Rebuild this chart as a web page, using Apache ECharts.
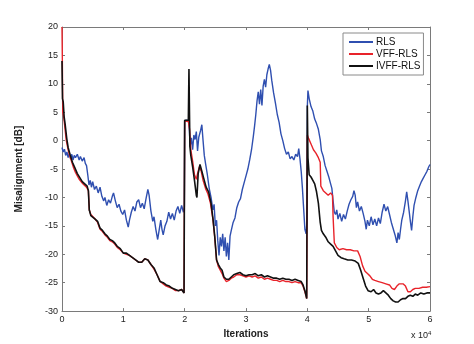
<!DOCTYPE html>
<html><head><meta charset="utf-8">
<script src="https://cdn.jsdelivr.net/npm/echarts@6/dist/echarts.min.js"></script>
<style>html,body{margin:0;padding:0;background:#fff}#c{width:474px;height:344px}</style>
</head><body><div id="c"></div>
<script>
const seriesNames = ['RLS', 'VFF-RLS', 'IVFF-RLS'];
const xTicks = [0, 1, 2, 3, 4, 5, 6];
const yTicks = [-30, -25, -20, -15, -10, -5, 0, 5, 10, 15, 20];

// x in units of 10^4 iterations, y in dB
const rls = [
[0,-1.2],[0.02,-2.0],[0.04,-1.5],[0.06,-2.6],[0.08,-2.0],[0.10,-3.0],[0.12,-2.2],[0.14,-3.2],[0.16,-2.4],[0.18,-3.4],[0.20,-2.6],[0.22,-3.0],[0.25,-2.4],[0.28,-3.4],[0.30,-2.8],[0.33,-3.6],[0.36,-3.0],[0.38,-4.0],[0.40,-4.4],[0.42,-6.0],[0.44,-7.8],[0.46,-7.0],[0.48,-8.2],[0.50,-7.2],[0.53,-8.6],[0.56,-8.0],[0.59,-9.2],[0.62,-8.2],[0.65,-9.8],[0.68,-10.6],[0.70,-10.0],[0.73,-11.4],[0.76,-10.4],[0.79,-11.0],[0.82,-9.8],[0.84,-9.2],[0.87,-10.6],[0.90,-11.8],[0.93,-11.2],[0.96,-12.4],[0.99,-13.0],[1.02,-12.2],[1.05,-14.0],[1.08,-15.2],[1.10,-14.0],[1.13,-12.6],[1.16,-11.6],[1.19,-12.4],[1.22,-10.8],[1.25,-10.4],[1.28,-11.8],[1.31,-11.0],[1.34,-12.0],[1.37,-10.2],[1.40,-8.6],[1.42,-9.6],[1.45,-12.4],[1.48,-14.2],[1.50,-13.4],[1.53,-15.6],[1.56,-17.4],[1.58,-16.0],[1.61,-14.0],[1.63,-15.6],[1.65,-16.6],[1.68,-15.0],[1.71,-14.2],[1.74,-12.6],[1.77,-13.8],[1.80,-12.8],[1.83,-14.0],[1.86,-12.4],[1.89,-11.6],[1.92,-12.8],[1.95,-11.4],[1.98,-12.6],[1.995,-11.6],
[2.0,3.5],[2.04,3.6],[2.07,3.2],[2.09,-1.0],[2.11,0.5],[2.13,-1.6],[2.15,1.0],[2.17,0.2],[2.19,1.6],[2.21,-1.8],[2.23,0.6],[2.26,1.8],[2.28,2.8],[2.30,0.0],[2.32,-2.6],[2.34,-4.0],[2.37,-6.0],[2.40,-8.4],[2.43,-10.0],[2.46,-12.2],[2.48,-11.2],[2.50,-15.0],[2.52,-14.0],[2.54,-17.6],[2.56,-20.2],[2.58,-17.0],[2.60,-18.6],[2.62,-16.4],[2.64,-19.4],[2.66,-17.0],[2.68,-20.4],[2.70,-18.0],[2.72,-21.0],[2.74,-16.8],[2.76,-15.8],[2.79,-14.4],[2.82,-13.6],[2.85,-11.8],[2.88,-10.8],[2.91,-10.2],[2.94,-8.6],[2.97,-7.4],[3.00,-6.2],[3.03,-5.0],[3.06,-3.4],[3.09,-1.6],[3.12,0.8],[3.14,2.6],[3.16,4.6],[3.18,7.0],[3.20,8.6],[3.22,6.4],[3.24,9.0],[3.26,6.2],[3.28,9.6],[3.30,10.8],[3.32,9.4],[3.34,11.6],[3.36,12.6],[3.38,13.4],[3.40,12.4],[3.42,10.6],[3.45,8.4],[3.48,6.6],[3.51,4.6],[3.54,3.2],[3.57,1.2],[3.60,0.0],[3.63,-1.4],[3.66,-2.4],[3.69,-2.0],[3.72,-3.2],[3.75,-2.8],[3.78,-3.4],[3.81,-2.4],[3.84,-2.8],[3.86,-1.4],[3.88,-3.2],[3.90,-5.4],[3.92,-8.4],[3.94,-12.0],[3.96,-15.6],[3.98,-16.4],[3.995,-14.0],
[4.0,6.0],[4.01,8.8],[4.03,7.4],[4.06,6.0],[4.09,5.2],[4.12,3.8],[4.15,3.0],[4.18,2.0],[4.21,0.2],[4.23,-1.8],[4.26,-2.8],[4.29,-4.4],[4.32,-5.4],[4.35,-6.4],[4.38,-7.6],[4.40,-8.4],[4.42,-10.6],[4.44,-12.6],[4.46,-13.0],[4.48,-12.2],[4.50,-13.8],[4.53,-12.8],[4.56,-14.2],[4.59,-13.0],[4.62,-13.8],[4.65,-12.4],[4.68,-11.2],[4.71,-10.4],[4.74,-9.8],[4.76,-8.8],[4.78,-9.6],[4.80,-11.8],[4.82,-10.8],[4.85,-12.4],[4.88,-11.6],[4.91,-12.8],[4.94,-14.2],[4.96,-15.6],[4.98,-14.0],[5.01,-15.0],[5.04,-13.4],[5.07,-14.8],[5.10,-13.8],[5.13,-15.0],[5.16,-13.6],[5.19,-14.6],[5.22,-12.6],[5.25,-11.2],[5.28,-12.4],[5.31,-11.6],[5.34,-13.0],[5.37,-14.4],[5.40,-14.2],[5.43,-16.6],[5.46,-18.0],[5.48,-16.2],[5.50,-17.4],[5.52,-15.6],[5.54,-14.0],[5.57,-12.6],[5.60,-10.6],[5.62,-9.0],[5.64,-10.6],[5.66,-12.4],[5.68,-14.2],[5.70,-15.8],[5.72,-13.4],[5.74,-11.4],[5.77,-10.0],[5.80,-8.8],[5.83,-8.0],[5.86,-7.2],[5.89,-6.6],[5.92,-6.0],[5.95,-5.4],[5.98,-4.6],[6.0,-4.2]
];

const vffRls = [
[0,20],[0.005,15],[0.012,5.0],[0.03,4.0],[0.05,2.0],[0.07,0.0],[0.10,-1.6],[0.13,-2.8],[0.16,-3.8],[0.19,-4.8],[0.22,-5.6],[0.25,-6.2],[0.28,-6.8],[0.31,-7.2],[0.34,-7.6],[0.37,-7.8],[0.40,-8.2],[0.43,-8.8],[0.445,-12.2],[0.47,-13.0],[0.50,-13.2],[0.54,-13.8],[0.58,-14.4],[0.62,-15.6],[0.66,-16.0],[0.70,-16.6],[0.74,-17.0],[0.78,-17.6],[0.82,-17.8],[0.86,-18.2],[0.90,-18.8],[0.95,-19.2],[1.0,-19.8],[1.05,-20.0],[1.10,-20.2],[1.15,-20.6],[1.20,-21.0],[1.25,-21.4],[1.30,-21.4],[1.35,-20.8],[1.40,-21.0],[1.45,-21.8],[1.50,-22.6],[1.55,-23.6],[1.60,-24.8],[1.65,-25.2],[1.70,-25.6],[1.75,-25.8],[1.80,-26.0],[1.85,-26.4],[1.90,-26.4],[1.95,-26.2],[1.99,-26.8],
[2.0,3.4],[2.06,3.4],[2.08,2.0],[2.10,-1.6],[2.13,-3.6],[2.16,-6.0],[2.19,-6.8],[2.21,-5.8],[2.24,-4.6],[2.27,-5.4],[2.30,-7.0],[2.34,-8.4],[2.38,-9.4],[2.42,-11.0],[2.46,-13.8],[2.49,-17.0],[2.52,-21.0],[2.55,-22.2],[2.58,-22.8],[2.61,-23.4],[2.64,-24.2],[2.68,-24.8],[2.72,-24.6],[2.76,-24.2],[2.80,-24.0],[2.85,-23.6],[2.90,-23.6],[2.95,-23.8],[3.0,-24.0],[3.05,-23.8],[3.10,-24.0],[3.15,-23.8],[3.20,-24.2],[3.25,-24.0],[3.30,-24.4],[3.35,-24.2],[3.40,-24.4],[3.45,-24.6],[3.50,-24.6],[3.55,-24.8],[3.60,-24.6],[3.65,-24.8],[3.70,-24.8],[3.75,-25.0],[3.80,-24.8],[3.85,-25.0],[3.90,-25.0],[3.93,-25.6],[3.96,-26.6],[3.99,-27.8],
[4.0,1.0],[4.02,0.4],[4.06,-0.6],[4.10,-1.6],[4.14,-2.2],[4.18,-3.0],[4.21,-3.8],[4.22,-8.0],[4.26,-8.8],[4.30,-9.2],[4.34,-9.6],[4.38,-9.2],[4.41,-9.6],[4.42,-13.4],[4.44,-18.0],[4.48,-18.8],[4.52,-19.2],[4.58,-19.0],[4.64,-19.2],[4.70,-19.2],[4.76,-19.4],[4.82,-19.4],[4.86,-20.4],[4.90,-22.0],[4.94,-23.0],[4.98,-23.4],[5.02,-23.8],[5.06,-24.4],[5.10,-24.6],[5.16,-24.8],[5.22,-25.0],[5.28,-25.2],[5.34,-25.4],[5.38,-26.0],[5.42,-26.2],[5.46,-25.6],[5.50,-25.2],[5.56,-25.2],[5.60,-25.6],[5.64,-26.6],[5.68,-26.6],[5.72,-26.2],[5.76,-26.0],[5.82,-26.0],[5.88,-25.8],[5.94,-25.8],[6.0,-25.7]
];

const ivffRls = [
[0,14.0],[0.008,7.4],[0.02,6.8],[0.035,4.2],[0.05,3.0],[0.077,0.4],[0.10,-1.2],[0.13,-2.4],[0.17,-3.8],[0.21,-4.8],[0.25,-5.8],[0.29,-6.5],[0.33,-7.2],[0.37,-7.6],[0.41,-8.0],[0.43,-8.8],[0.445,-12.2],[0.47,-13.2],[0.50,-13.0],[0.54,-13.8],[0.58,-14.2],[0.62,-15.4],[0.66,-15.8],[0.70,-16.4],[0.74,-16.8],[0.78,-17.4],[0.82,-17.6],[0.86,-18.0],[0.90,-18.6],[0.95,-19.0],[1.0,-19.8],[1.05,-19.8],[1.10,-20.2],[1.15,-20.6],[1.20,-21.0],[1.25,-21.4],[1.30,-21.4],[1.35,-20.8],[1.40,-21.0],[1.45,-21.8],[1.50,-22.4],[1.55,-23.6],[1.60,-24.8],[1.65,-25.0],[1.70,-25.4],[1.75,-25.6],[1.80,-26.0],[1.85,-26.2],[1.90,-26.4],[1.95,-26.2],[1.99,-26.8],
[2.0,3.6],[2.06,3.6],[2.07,12.6],[2.08,12.6],[2.085,-1.0],[2.10,-2.6],[2.13,-4.6],[2.16,-7.0],[2.19,-9.6],[2.20,-10.0],[2.22,-5.8],[2.25,-4.2],[2.28,-5.4],[2.31,-6.6],[2.35,-8.2],[2.39,-9.0],[2.43,-11.0],[2.46,-13.6],[2.49,-16.8],[2.52,-21.0],[2.55,-21.8],[2.58,-22.4],[2.61,-22.8],[2.64,-24.0],[2.68,-24.4],[2.72,-24.4],[2.76,-24.0],[2.80,-23.6],[2.85,-23.4],[2.90,-23.2],[2.95,-23.6],[3.0,-23.8],[3.05,-23.6],[3.10,-23.6],[3.15,-23.4],[3.20,-23.8],[3.25,-23.6],[3.30,-24.0],[3.35,-23.8],[3.40,-24.0],[3.45,-24.2],[3.50,-24.2],[3.55,-24.4],[3.60,-24.2],[3.65,-24.4],[3.70,-24.4],[3.75,-24.6],[3.80,-24.4],[3.85,-24.6],[3.90,-24.8],[3.93,-25.4],[3.96,-26.4],[3.99,-27.8],
[4.0,6.2],[4.01,-3.0],[4.03,-6.0],[4.06,-6.4],[4.09,-7.0],[4.12,-7.6],[4.15,-9.0],[4.18,-11.0],[4.21,-14.4],[4.23,-15.8],[4.26,-16.4],[4.30,-17.0],[4.34,-17.8],[4.38,-18.2],[4.42,-18.6],[4.46,-19.4],[4.50,-20.2],[4.55,-20.6],[4.60,-20.8],[4.66,-21.0],[4.72,-21.0],[4.78,-21.2],[4.83,-21.6],[4.87,-22.8],[4.91,-24.2],[4.95,-25.6],[4.99,-26.4],[5.04,-26.6],[5.08,-26.2],[5.12,-26.8],[5.16,-27.0],[5.20,-26.8],[5.24,-26.4],[5.28,-26.8],[5.32,-27.2],[5.36,-27.8],[5.40,-28.2],[5.44,-28.4],[5.48,-28.4],[5.52,-28.0],[5.56,-27.8],[5.60,-27.8],[5.64,-27.4],[5.68,-27.2],[5.72,-27.4],[5.76,-27.0],[5.80,-27.2],[5.85,-26.8],[5.90,-27.0],[5.95,-26.8],[6.0,-26.8]
];

const colors = ['#2f4fb0', '#e8232a', '#111111'];
const FONT = '"Liberation Sans", Arial, sans-serif';
const frame = { show: true, onZero: false, lineStyle: { color: '#7a7a7a', width: 1 } };
const tick = { show: true, inside: true, length: 3, lineStyle: { color: '#7a7a7a' } };

const chart = echarts.init(document.getElementById('c'), null, { renderer: 'canvas' });
chart.setOption({
  animation: false,
  backgroundColor: '#fff',
  textStyle: { fontFamily: FONT },
  grid: { left: 62, right: 44, top: 27, bottom: 28, containLabel: false },
  legend: {
    orient: 'vertical', left: 343, top: 33,
    data: seriesNames,
    icon: 'rect', itemWidth: 24, itemHeight: 2, itemGap: 0,
    backgroundColor: '#fff', borderColor: '#8a8a8a', borderWidth: 1, borderRadius: 0,
    padding: [3, 3, 3, 6],
    textStyle: { fontSize: 10, lineHeight: 12, height: 12, color: '#111', fontFamily: FONT, padding: [0, 0, 0, -2] }
  },
  xAxis: [{
    type: 'value', min: 0, max: 6, interval: 1, position: 'bottom',
    axisLine: frame, axisTick: tick, splitLine: { show: false },
    axisLabel: { fontSize: 9, color: '#222', margin: 4, fontFamily: FONT,
      formatter: v => xTicks.includes(v) ? String(v) : '' },
    name: 'Iterations', nameLocation: 'middle', nameGap: 17,
    nameTextStyle: { fontSize: 10, fontWeight: 'bold', color: '#222', fontFamily: FONT }
  }, {
    type: 'value', min: 0, max: 6, interval: 1, position: 'top',
    axisLine: frame, axisTick: tick, axisLabel: { show: false }, splitLine: { show: false }
  }],
  yAxis: [{
    type: 'value', min: -30, max: 20, interval: 5, position: 'left',
    axisLine: frame, axisTick: tick, splitLine: { show: false },
    axisLabel: { fontSize: 9, color: '#222', margin: 4, fontFamily: FONT,
      formatter: v => yTicks.includes(v) ? String(v) : '' },
    name: 'Misalignment [dB]', nameLocation: 'middle', nameGap: 38,
    nameTextStyle: { fontSize: 10, fontWeight: 'bold', color: '#222', fontFamily: FONT }
  }, {
    type: 'value', min: -30, max: 20, interval: 5, position: 'right',
    axisLine: frame, axisTick: tick, axisLabel: { show: false }, splitLine: { show: false }
  }],
  graphic: [{
    type: 'text', left: 411, top: 330,
    style: {
      text: '{a|x 10}{b|4}', fontFamily: FONT,
      rich: { a: { fontSize: 9, fill: '#222', fontFamily: FONT },
              b: { fontSize: 6, fill: '#222', verticalAlign: 'top', padding: [0, 0, 6, 0], fontFamily: FONT } }
    }
  }],
  series: [
    { name: seriesNames[0], type: 'line', data: rls, showSymbol: false, color: colors[0],
      lineStyle: { color: colors[0], width: 1.4 }, z: 2 },
    { name: seriesNames[1], type: 'line', data: vffRls, showSymbol: false, color: colors[1],
      lineStyle: { color: colors[1], width: 1.4 }, z: 3 },
    { name: seriesNames[2], type: 'line', data: ivffRls, showSymbol: false, color: colors[2],
      lineStyle: { color: colors[2], width: 1.6 }, z: 4 }
  ]
});
</script>
</body></html>
